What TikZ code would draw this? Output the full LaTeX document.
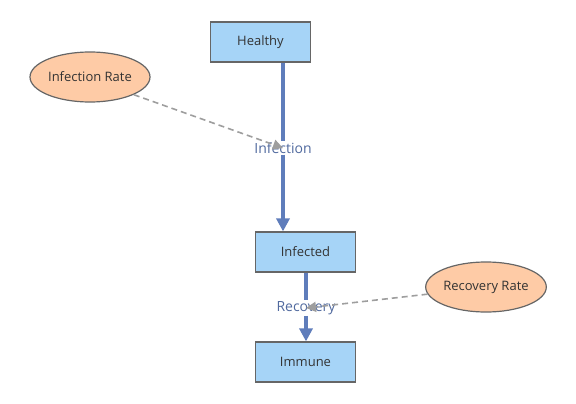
\documentclass[tikz,border=0pt]{standalone}
\usepackage{fontspec}
\setmainfont{Open Sans}
\usetikzlibrary{arrows.meta,shapes.geometric}
\definecolor{stockblue}{HTML}{A6D4F7}
\definecolor{rateorange}{HTML}{FECBA6}
\definecolor{flowblue}{HTML}{5F7DBB}
\definecolor{edgegray}{HTML}{666666}
\begin{document}
\begin{tikzpicture}[x=1pt, y=-1pt, font=\fontsize{13}{15}\selectfont,
  stock/.style={rectangle,draw=edgegray,line width=1.2pt,fill=stockblue,minimum width=100pt,minimum height=40pt,text=black!80},
  rate/.style={ellipse,draw=edgegray,line width=1.2pt,fill=rateorange,minimum width=120pt,minimum height=50pt,inner sep=0pt,text=black!80},
  flowlabel/.style={fill=white,inner sep=1pt,font=\fontsize{14}{16}\selectfont,text=flowblue!85!black},
  flow/.style={draw=flowblue,line width=3.5pt,-{Triangle[width=13pt,length=13pt]}},
  flowstart/.style={draw=flowblue,line width=3.5pt},
  link/.style={draw=black!38,line width=1.6pt,dash pattern=on 6pt off 4pt,-{Triangle[width=10pt,length=10pt]}}]
  \useasboundingbox (0,0) rectangle (576,404);
  \node[stock] (healthy) at (260.5, 42) {Healthy};
  \node[stock] (infected) at (305.5, 252) {Infected};
  \node[stock] (immune) at (305.5, 362) {Immune};
  \node[rate] (infrate) at (90, 77) {Infection Rate};
  \node[rate] (recrate) at (486, 287) {Recovery Rate};
  \node[flowlabel] (infection) at (283, 148) {Infection};
  \node[flowlabel] (recovery) at (306, 308) {Recovery};

  \draw[flowstart] (healthy.south -| infection) -- (infection);
  \draw[flow] (infection) -- (infected.north -| infection);
  \draw[flowstart] (infected.south -| recovery) -- (recovery);
  \draw[flow] (recovery) -- (immune.north -| recovery);

  \draw[link] (infrate.-22) -- (infection.center);
  \draw[link] (recrate.187) -- (recovery.center);
\end{tikzpicture}
\end{document}
